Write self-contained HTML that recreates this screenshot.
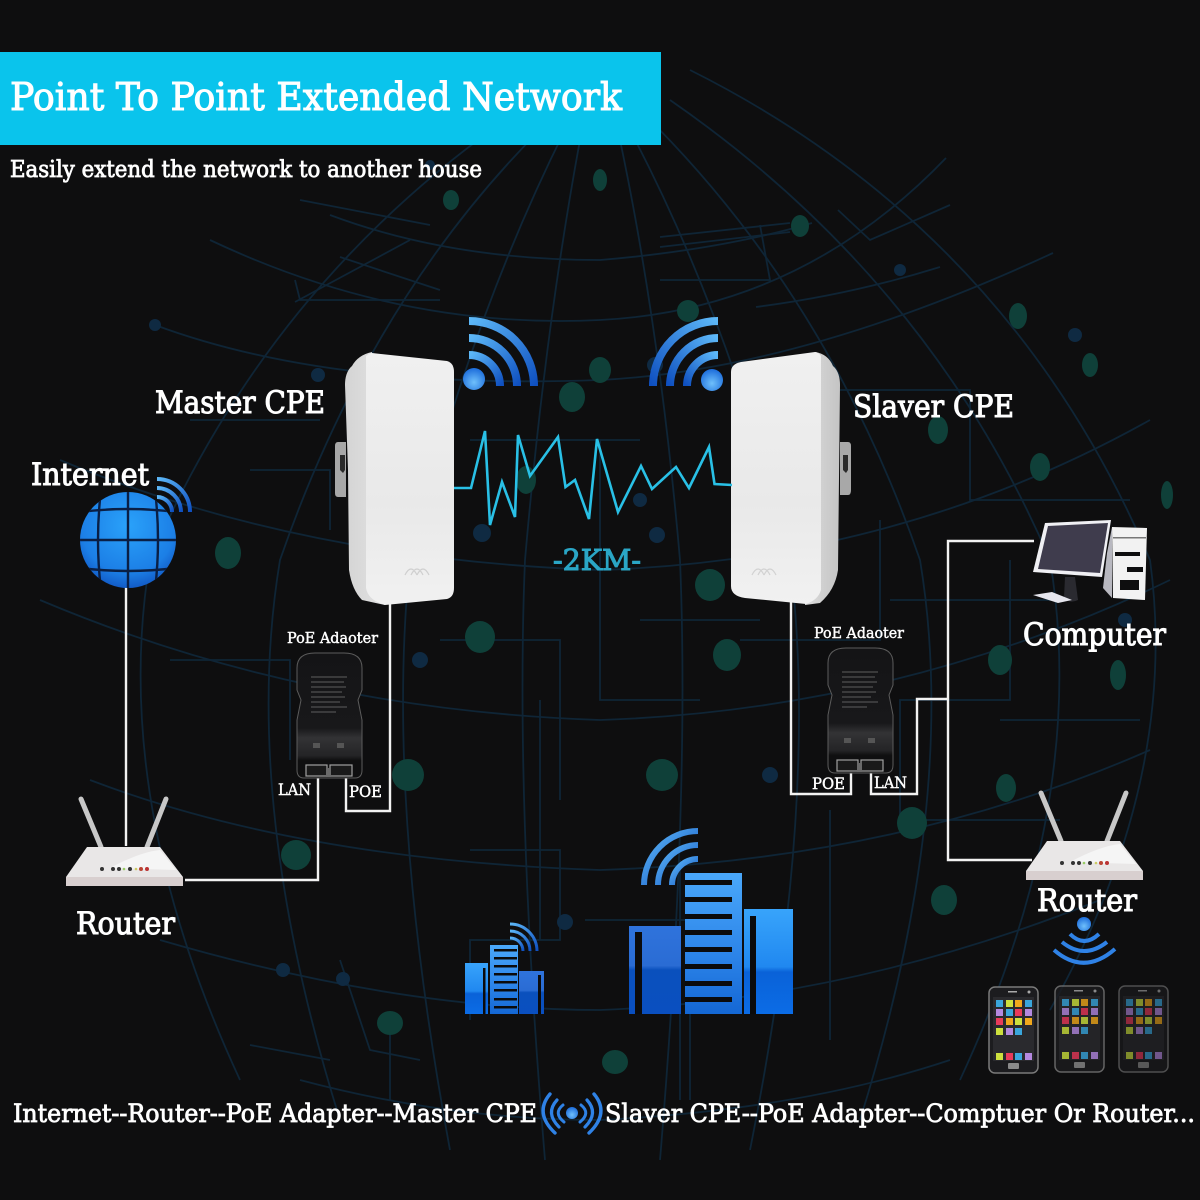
<!DOCTYPE html>
<html><head><meta charset="utf-8"><style>
html,body{margin:0;padding:0;background:#0e0e0f}
svg{display:block}
text{font-family:"DejaVu Serif","Liberation Serif",serif;font-weight:normal;fill:#fff;stroke:#fff;stroke-width:1.05}
</style></head><body>
<svg xmlns="http://www.w3.org/2000/svg" width="1200" height="1200" viewBox="0 0 1200 1200">
<defs>
<linearGradient id="cpe" x1="0" y1="0" x2="0" y2="1"><stop offset="0" stop-color="#f0f0f0"/><stop offset=".6" stop-color="#e9e9e9"/><stop offset="1" stop-color="#f1f1f1"/></linearGradient>
<linearGradient id="side" x1="0" y1="0" x2="1" y2="0"><stop offset="0" stop-color="#d4d4d4"/><stop offset="1" stop-color="#e2e2e2"/></linearGradient>
<linearGradient id="sideR" x1="0" y1="0" x2="1" y2="0"><stop offset="0" stop-color="#dcdcdc"/><stop offset="1" stop-color="#c4c4c4"/></linearGradient>
<linearGradient id="bl" x1="0" y1="0" x2="0" y2="1"><stop offset="0" stop-color="#38a4fb"/><stop offset=".55" stop-color="#2088f0"/><stop offset=".6" stop-color="#0a62d8"/><stop offset="1" stop-color="#0b6ce6"/></linearGradient>
<linearGradient id="bl2" x1="0" y1="0" x2="0" y2="1"><stop offset="0" stop-color="#2f73dc"/><stop offset=".45" stop-color="#2a6cd4"/><stop offset=".5" stop-color="#0a50bd"/><stop offset="1" stop-color="#0a4fc0"/></linearGradient>
<linearGradient id="bl3" x1="0" y1="0" x2="0" y2="1"><stop offset="0" stop-color="#4aa8fa"/><stop offset=".6" stop-color="#2b83e8"/><stop offset="1" stop-color="#1467d4"/></linearGradient>
<linearGradient id="arc" x1="0" y1="0" x2="1" y2="1"><stop offset="0" stop-color="#5db8f8"/><stop offset="1" stop-color="#0f50c0"/></linearGradient>
<linearGradient id="arcR" x1="1" y1="0" x2="0" y2="1"><stop offset="0" stop-color="#5db8f8"/><stop offset="1" stop-color="#0f50c0"/></linearGradient>
<radialGradient id="dot" cx=".5" cy=".65" r=".7"><stop offset="0" stop-color="#6fc0fb"/><stop offset="1" stop-color="#1565d8"/></radialGradient>
<radialGradient id="globe" cx=".5" cy=".35" r=".7"><stop offset="0" stop-color="#2aa2fa"/><stop offset=".7" stop-color="#1c7fe6"/><stop offset="1" stop-color="#0f50bd"/></radialGradient>
<linearGradient id="adp" x1="0" y1="0" x2="0" y2="1"><stop offset="0" stop-color="#141416"/><stop offset=".6" stop-color="#18181a"/><stop offset=".68" stop-color="#333335"/><stop offset=".82" stop-color="#242426"/><stop offset=".86" stop-color="#0f0f10"/><stop offset="1" stop-color="#0f0f10"/></linearGradient>
<clipPath id="gc"><circle cx="128" cy="540" r="48"/></clipPath>

<g id="router">
<line x1="81" y1="799" x2="101" y2="847" stroke="#c8c8c8" stroke-width="5" stroke-linecap="round"/>
<line x1="166" y1="799" x2="147" y2="847" stroke="#c8c8c8" stroke-width="5" stroke-linecap="round"/>
<path d="M87,847H160L183,877V886H66V877Z" fill="#e9e7e7"/>
<path d="M66,877H183V886H66Z" fill="#d8cfcf"/>
<path d="M110,868Q140,852 160,850L176,870Z" fill="#f5f5f5"/>
<g fill="#333"><circle cx="102" cy="869" r="2"/><circle cx="113" cy="869" r="2"/><circle cx="119" cy="869" r="2"/><circle cx="130" cy="869" r="2"/></g>
<circle cx="124" cy="869" r="1.3" fill="#9c6"/><circle cx="136" cy="869" r="1.3" fill="#cc6"/>
<circle cx="141" cy="869" r="2" fill="#b43"/><circle cx="147" cy="869" r="2" fill="#b33"/>
</g>

<g id="adapter">
<path d="M297,668Q297,653 315,653H344Q362,653 362,668V690L358,700L362,720V770Q362,778 355,778H304Q297,778 297,770V720L301,700L297,690Z" fill="url(#adp)" stroke="#5c5c5c" stroke-width="1"/>
<g stroke="#5e5e5e" stroke-width="1"><path d="M311,677H347M311,682H344M311,687H346M311,692H342M311,697H345M311,702H340M311,707H347M311,712H336"/></g>
<rect x="313" y="743" width="7" height="5" fill="#555"/><rect x="337" y="743" width="7" height="5" fill="#555"/>
<rect x="306" y="765" width="21" height="11" fill="#1a1a1a" stroke="#a0a0a0" stroke-width="1.2"/>
<rect x="330" y="765" width="22" height="11" fill="#1a1a1a" stroke="#a0a0a0" stroke-width="1.2"/>
<rect x="326" y="768" width="5" height="9" fill="#6a6a6a"/>
</g>

<g id="phone">
<rect x="0" y="0" width="49" height="86" rx="6" fill="#1c1c1f" stroke="#7a7a7a" stroke-width="1.5"/>
<rect x="4" y="10" width="41" height="64" fill="#2a2a2e"/>
<rect x="19" y="4" width="9" height="1.5" fill="#aaa"/><circle cx="40" cy="5" r="1.5" fill="#aaa"/>
<rect x="19" y="76" width="11" height="6" rx="1" fill="#8a8a8a"/>
<g>
<rect x="7" y="13" width="7" height="7" fill="#3aa6dc"/><rect x="17" y="13" width="7" height="7" fill="#cde03e"/><rect x="26" y="13" width="7" height="7" fill="#f0a81c"/><rect x="36" y="13" width="7" height="7" fill="#3aa6dc"/>
<rect x="7" y="22" width="7" height="7" fill="#b489e0"/><rect x="17" y="22" width="7" height="7" fill="#3aa6dc"/><rect x="26" y="22" width="7" height="7" fill="#e83a5a"/><rect x="36" y="22" width="7" height="7" fill="#b489e0"/>
<rect x="7" y="31" width="7" height="7" fill="#e83a5a"/><rect x="17" y="31" width="7" height="7" fill="#f0a81c"/><rect x="26" y="31" width="7" height="7" fill="#cde03e"/><rect x="36" y="31" width="7" height="7" fill="#f0a81c"/>
<rect x="7" y="41" width="7" height="7" fill="#cde03e"/><rect x="17" y="41" width="7" height="7" fill="#b489e0"/><rect x="26" y="41" width="7" height="7" fill="#3aa6dc"/>
<rect x="7" y="66" width="7" height="7" fill="#cde03e"/><rect x="17" y="66" width="7" height="7" fill="#e83a5a"/><rect x="26" y="66" width="7" height="7" fill="#3aa6dc"/><rect x="36" y="66" width="7" height="7" fill="#b489e0"/>
</g>
</g>
</defs>

<rect width="1200" height="1200" fill="#0e0e0f"/>

<!-- background globe -->
<g fill="none" stroke="#0f2536" stroke-width="1.8">
<path d="M690,70Q1010,230 1150,560Q1180,780 1050,1010"/>
<path d="M670,100Q930,280 1050,560Q1090,800 960,1080"/>
<path d="M650,120Q830,300 920,560Q960,800 860,1120"/>
<path d="M630,130Q730,320 790,560Q820,800 750,1150"/>
<path d="M620,140Q660,330 680,560Q690,800 660,1160"/>
<path d="M580,140Q545,330 525,560Q515,800 545,1160"/>
<path d="M565,130Q470,320 410,560Q385,800 450,1150"/>
<path d="M540,130Q370,300 280,560Q240,800 340,1120"/>
<path d="M520,110Q270,280 150,560Q110,800 240,1080"/>
<path d="M330,215Q450,260 600,260Q720,250 812,223"/>
<path d="M210,240Q400,330 600,320Q800,310 946,158"/>
<path d="M155,325Q330,390 600,380Q800,370 1053,253"/>
<path d="M60,460Q300,560 600,570Q900,560 1150,420"/>
<path d="M40,600Q300,710 600,720Q900,710 1170,580"/>
<path d="M90,780Q300,860 600,870Q900,860 1150,750"/>
<path d="M160,940Q400,1010 600,1010Q850,1000 1100,900"/>
<path d="M300,1080Q450,1120 600,1120Q800,1110 950,1060"/>
<path d="M660,237L790,223M660,247L790,232M756,307Q850,295 940,267"/>
<path d="M660,280H770L760,225M838,210L870,240L950,205"/>
<path d="M295,302L410,240M340,257L440,290M300,200L430,225"/>
<path d="M295,280L300,300H440M470,850H560V940H470V1020M585,920H690V1100M830,810V1040M1060,820H900V700H1010V560M790,390H970V500H1130M680,860V1100M540,700V940M740,640H880V520M250,470H330V530M390,1020V1100M340,960L370,1050L420,1060M250,1045L330,1060"/>
<path d="M440,640H560V800M600,440V700H700M470,440H640M640,620H760M170,660H290V760M890,600H1060M1000,720H1140M190,420H320"/>
</g>
<g fill="#0f4039">
<ellipse cx="228" cy="553" rx="13" ry="16"/><ellipse cx="480" cy="637" rx="15" ry="16"/><ellipse cx="408" cy="775" rx="16" ry="16"/><ellipse cx="296" cy="855" rx="15" ry="15"/>
<ellipse cx="662" cy="775" rx="16" ry="16"/><ellipse cx="912" cy="823" rx="15" ry="16"/><ellipse cx="944" cy="900" rx="13" ry="15"/><ellipse cx="1000" cy="660" rx="12" ry="15"/>
<ellipse cx="727" cy="655" rx="14" ry="16"/><ellipse cx="710" cy="585" rx="15" ry="16"/><ellipse cx="1040" cy="467" rx="10" ry="14"/><ellipse cx="938" cy="430" rx="10" ry="14"/>
<ellipse cx="1018" cy="316" rx="9" ry="13"/><ellipse cx="1118" cy="675" rx="8" ry="15"/><ellipse cx="572" cy="397" rx="13" ry="15"/><ellipse cx="600" cy="370" rx="11" ry="13"/>
<ellipse cx="688" cy="311" rx="11" ry="11"/><ellipse cx="600" cy="180" rx="7" ry="11"/><ellipse cx="451" cy="200" rx="8" ry="10"/><ellipse cx="800" cy="226" rx="9" ry="11"/>
<ellipse cx="1006" cy="788" rx="10" ry="14"/><ellipse cx="390" cy="1023" rx="13" ry="12"/><ellipse cx="615" cy="1062" rx="13" ry="12"/><ellipse cx="1167" cy="495" rx="6" ry="14"/>
<ellipse cx="526" cy="480" rx="10" ry="14"/><ellipse cx="830" cy="536" rx="8" ry="14"/><ellipse cx="1090" cy="365" rx="8" ry="12"/>
</g>
<g fill="#0f2a42">
<circle cx="155" cy="325" r="6"/><circle cx="318" cy="375" r="7"/><circle cx="482" cy="533" r="9"/><circle cx="655" cy="365" r="8"/><circle cx="657" cy="535" r="8"/><circle cx="640" cy="500" r="7"/><circle cx="770" cy="775" r="8"/>
<circle cx="420" cy="660" r="8"/><circle cx="565" cy="922" r="8"/><circle cx="1075" cy="335" r="7"/><circle cx="370" cy="590" r="7"/><circle cx="430" cy="165" r="5"/>
<circle cx="900" cy="270" r="6"/><circle cx="1125" cy="620" r="7"/><circle cx="283" cy="970" r="7"/><circle cx="343" cy="979" r="7"/>
</g>

<!-- banner -->
<rect x="0" y="52" width="661" height="93" fill="#0ac4ec"/>
<text x="10" y="110" font-size="38" textLength="612" lengthAdjust="spacingAndGlyphs">Point To Point Extended Network</text>
<text x="10" y="177" font-size="23" style="stroke-width:.8" textLength="472" lengthAdjust="spacingAndGlyphs">Easily extend the network to another house</text>

<!-- connectors -->
<g fill="none" stroke="#f2f2f2" stroke-width="2.4">
<path d="M126,585V846"/>
<path d="M318,777V880H185"/>
<path d="M346,778V811H390V604"/>
<path d="M791,602V794H851V772"/>
<path d="M871,772V794H917V699H948"/>
<path d="M1034,541H948V860H1032"/>
</g>

<!-- Master CPE -->
<path d="M372,352Q358,355 352,366Q345,372 345,385L348,470L349,570Q352,590 362,600L385,605Z" fill="url(#side)"/>
<path d="M372,353Q370,353 366,356V588Q368,600 385,605L447,599Q454,597 454,588V372Q454,363 447,361Z" fill="url(#cpe)"/>
<path d="M338,442H346V497H338Q335,497 335,493V446Q335,442 338,442Z" fill="#a8a8a8"/>
<path d="M340,455V470L343,473L345,470V455Z" fill="#2a2a2a"/>
<path d="M405,575Q411,563 417,575M411,575Q417,563 423,575M417,575Q423,563 429,575" fill="none" stroke="#cfcfcf" stroke-width="1.2"/>

<!-- Slaver CPE -->
<path d="M815,352Q828,354 833,366Q840,372 840,385L838,570Q835,590 820,603L805,605Z" fill="url(#sideR)"/>
<path d="M815,352Q818,352 821,356V590Q818,600 806,604L745,598Q731,596 731,586V372Q731,364 741,362Z" fill="url(#cpe)"/>
<path d="M840,442H848Q851,442 851,446V490Q851,495 848,495H840Z" fill="#a8a8a8"/>
<path d="M843,455V470L846,473L848,470V455Z" fill="#2a2a2a"/>
<path d="M752,575Q758,563 764,575M758,575Q764,563 770,575M764,575Q770,563 776,575" fill="none" stroke="#d2d2d2" stroke-width="1.2"/>

<!-- CPE wifi -->
<circle cx="474" cy="379" r="11" fill="url(#dot)"/>
<g fill="none" stroke="url(#arc)" stroke-width="8">
<path d="M469,321A65,65 0 0 1 534,386"/><path d="M469,338A48,48 0 0 1 517,386"/><path d="M469,355A31,31 0 0 1 500,386"/>
</g>
<circle cx="712" cy="380" r="11" fill="url(#dot)"/>
<g fill="none" stroke="url(#arcR)" stroke-width="8">
<path d="M718,321A65,65 0 0 0 653,386"/><path d="M718,338A48,48 0 0 0 670,386"/><path d="M718,355A31,31 0 0 0 687,386"/>
</g>

<!-- signal -->
<polyline points="454,488 471,488 485,431 490,525 502,482 515,517 518,435 530,476 558,437 565.5,487 575,480 589,519 597,439 618,512 641,466 652,489 676,467 689,488 709,447 714.5,484 732,485" fill="none" stroke="#29c0e6" stroke-width="2.6"/>
<text x="553" y="570" font-size="29" style="fill:#2aa6c6;stroke:#2aa6c6" textLength="88" lengthAdjust="spacingAndGlyphs">-2KM-</text>

<!-- labels -->
<text x="155" y="413" font-size="31" textLength="170" lengthAdjust="spacingAndGlyphs">Master CPE</text>
<text x="853" y="417" font-size="31" textLength="161" lengthAdjust="spacingAndGlyphs">Slaver CPE</text>
<text x="31" y="485" font-size="31" textLength="118" lengthAdjust="spacingAndGlyphs">Internet</text>
<text x="76" y="934" font-size="31" textLength="99" lengthAdjust="spacingAndGlyphs">Router</text>
<text x="1023" y="645" font-size="31" textLength="143" lengthAdjust="spacingAndGlyphs">Computer</text>
<text x="1037" y="911" font-size="31" textLength="100" lengthAdjust="spacingAndGlyphs">Router</text>

<!-- globe -->
<circle cx="128" cy="540" r="48" fill="url(#globe)"/>
<g clip-path="url(#gc)" fill="none" stroke="#0a1f45" stroke-width="2.4">
<path d="M80,540H176"/><path d="M80,512Q128,506 176,512"/><path d="M80,568Q128,574 176,568"/>
<path d="M128,490V590"/><path d="M101,490Q95,540 101,590"/><path d="M155,490Q161,540 155,590"/>
</g>
<g fill="none" stroke="url(#arc)" stroke-width="4">
<path d="M157,479A33,33 0 0 1 190,512"/><path d="M157,488A24,24 0 0 1 181,512"/><path d="M157,497A15,15 0 0 1 172,512"/>
</g>

<!-- routers -->
<use href="#router"/>
<use href="#router" transform="translate(960,-6)"/>

<!-- adapters -->
<use href="#adapter"/>
<use href="#adapter" transform="translate(531,-5)"/>
<text x="287" y="643" font-size="15" style="stroke-width:.45" textLength="91" lengthAdjust="spacingAndGlyphs">PoE Adaoter</text>
<text x="814" y="638" font-size="15" style="stroke-width:.45" textLength="90" lengthAdjust="spacingAndGlyphs">PoE Adaoter</text>
<text x="278" y="795" font-size="16" style="stroke-width:.45" textLength="33" lengthAdjust="spacingAndGlyphs">LAN</text>
<text x="349" y="797" font-size="16" style="stroke-width:.45" textLength="33" lengthAdjust="spacingAndGlyphs">POE</text>
<text x="812" y="789" font-size="16" style="stroke-width:.45" textLength="33" lengthAdjust="spacingAndGlyphs">POE</text>
<text x="874" y="788" font-size="16" style="stroke-width:.45" textLength="33" lengthAdjust="spacingAndGlyphs">LAN</text>

<!-- computer -->
<path d="M1065,577H1075L1078,600Q1070,604 1064,598Z" fill="#2a2a30"/>
<path d="M1045,523L1111,520L1102,577L1033,572Z" fill="#f0f0f4"/>
<path d="M1048,526L1108,523L1100,573L1038,569Z" fill="#3f3c4d"/>
<path d="M1033,595L1052,592L1072,600L1058,603Z" fill="#e6e6ee"/>
<path d="M1107,553L1112,527V598L1103,588Z" fill="#b8b8c0"/>
<path d="M1112,527L1147,528L1145,600L1113,598Z" fill="#f2f2f2"/>
<rect x="1113" y="537" width="33" height="1.5" fill="#777"/>
<rect x="1115" y="552" width="25" height="4" fill="#0e0e0f"/>
<rect x="1127" y="567" width="16" height="5" fill="#0e0e0f"/>
<rect x="1120" y="580" width="19" height="10" fill="#0e0e0f"/>

<!-- big building -->
<g fill="none" stroke="url(#arc)" stroke-width="6">
<path d="M698,831A54,54 0 0 0 644,885"/><path d="M698,845A40,40 0 0 0 658,885"/><path d="M698,859A26,26 0 0 0 672,885"/>
</g>
<rect x="629" y="926" width="52" height="88" fill="url(#bl2)"/>
<rect x="635" y="932" width="7" height="82" fill="#0b0b0c"/>
<rect x="685" y="873" width="57" height="141" fill="url(#bl3)"/>
<g fill="#0b0b0c"><rect x="685" y="880" width="47" height="5"/><rect x="685" y="897" width="47" height="5"/><rect x="685" y="914" width="47" height="5"/><rect x="685" y="930" width="47" height="5"/><rect x="685" y="947" width="47" height="5"/><rect x="685" y="964" width="47" height="5"/><rect x="685" y="981" width="47" height="5"/><rect x="685" y="997" width="47" height="5"/></g>
<rect x="744" y="909" width="49" height="105" fill="url(#bl)"/>
<rect x="750" y="916" width="6" height="98" fill="#0b0b0c"/>

<!-- small building -->
<g fill="none" stroke="url(#arc)" stroke-width="3">
<path d="M510,924A27,27 0 0 1 537,951"/><path d="M510,931A20,20 0 0 1 530,951"/><path d="M510,938A13,13 0 0 1 523,951"/>
</g>
<rect x="465" y="963" width="23" height="51" fill="url(#bl)"/>
<rect x="483" y="968" width="2.5" height="46" fill="#0b0b0c"/>
<rect x="490" y="945" width="28" height="69" fill="url(#bl3)"/>
<g fill="#0b0b0c"><rect x="494" y="949" width="23" height="2.5"/><rect x="494" y="957" width="23" height="2.5"/><rect x="494" y="965" width="23" height="2.5"/><rect x="494" y="973" width="23" height="2.5"/><rect x="494" y="981" width="23" height="2.5"/><rect x="494" y="989" width="23" height="2.5"/><rect x="494" y="998" width="23" height="2.5"/><rect x="494" y="1006" width="23" height="2.5"/></g>
<rect x="519" y="971" width="25" height="43" fill="url(#bl2)"/>
<rect x="538" y="975" width="3" height="39" fill="#0b0b0c"/>

<!-- router wifi -->
<circle cx="1084" cy="924" r="7" fill="url(#dot)"/>
<g fill="none" stroke="#2f82e6" stroke-width="4">
<path d="M1054,950Q1084,976 1115,949"/><path d="M1062,942Q1084,960 1107,942"/><path d="M1070,934Q1084,948 1099,934"/>
</g>

<!-- phones -->
<use href="#phone" transform="translate(989,987)"/>
<use href="#phone" transform="translate(1055,986)" opacity=".8"/>
<use href="#phone" transform="translate(1119,986)" opacity=".6"/>

<!-- bottom -->
<text x="13" y="1122" font-size="25" style="stroke-width:.8" textLength="524" lengthAdjust="spacingAndGlyphs">Internet--Router--PoE Adapter--Master CPE</text>
<text x="605" y="1122" font-size="25" style="stroke-width:.8" textLength="590" lengthAdjust="spacingAndGlyphs">Slaver CPE--PoE Adapter--Comptuer Or Router...</text>
<circle cx="572" cy="1113" r="6" fill="url(#dot)"/>
<g fill="none" stroke="#2f82e6" stroke-linecap="round">
<path d="M563,1105Q553,1113 564,1122" stroke-width="3"/><path d="M557,1100Q545,1113 559,1127" stroke-width="3.2"/><path d="M550,1094Q534,1113 555,1133" stroke-width="3.4"/>
<path d="M581,1105Q591,1113 580,1122" stroke-width="3"/><path d="M587,1100Q599,1113 585,1127" stroke-width="3.2"/><path d="M594,1094Q610,1113 589,1133" stroke-width="3.4"/>
</g>
</svg>
</body></html>
